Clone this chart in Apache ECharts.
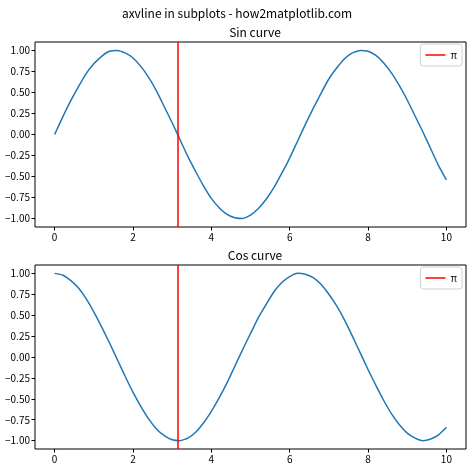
<!DOCTYPE html>
<html><head><meta charset="utf-8">
<script src="https://cdn.jsdelivr.net/npm/echarts@6/dist/echarts.min.js"></script>
<style>html,body{margin:0;padding:0;background:#fff}#c{width:474px;height:474px}</style>
</head><body><div id="c"></div>
<script>
const X = [0,0.2,0.4,0.6,0.8,1,1.2,1.4,1.6,1.8,2,2.2,2.4,2.6,2.8,3,3.2,3.4,3.6,3.8,4,4.2,4.4,4.6,4.8,5,5.2,5.4,5.6,5.8,6,6.2,6.4,6.6,6.8,7,7.2,7.4,7.6,7.8,8,8.2,8.4,8.6,8.8,9,9.2,9.4,9.6,9.8,10];
const SIN = [0.00,0.20,0.39,0.56,0.72,0.84,0.93,0.99,1.00,0.97,0.91,0.81,0.68,0.52,0.33,0.14,-0.06,-0.26,-0.44,-0.61,-0.76,-0.87,-0.95,-0.99,-1.00,-0.96,-0.88,-0.77,-0.63,-0.46,-0.28,-0.08,0.12,0.31,0.49,0.66,0.79,0.90,0.97,1.00,0.99,0.94,0.85,0.73,0.58,0.41,0.22,0.03,-0.17,-0.37,-0.54];
const COS = [1.00,0.98,0.92,0.83,0.70,0.54,0.36,0.17,-0.03,-0.23,-0.42,-0.59,-0.74,-0.86,-0.94,-0.99,-1.00,-0.97,-0.90,-0.79,-0.65,-0.49,-0.31,-0.11,0.09,0.28,0.47,0.63,0.78,0.89,0.96,1.00,0.99,0.95,0.87,0.75,0.61,0.44,0.25,0.05,-0.15,-0.34,-0.52,-0.68,-0.81,-0.91,-0.97,-1.00,-0.98,-0.93,-0.84];
const PI_X = 3.14159;
const X_TICKS = [0,2,4,6,8,10];
const Y_TICKS = [-1,-0.75,-0.5,-0.25,0,0.25,0.5,0.75,1];
const TITLES = ['Sin curve','Cos curve'];
const SUPTITLE = 'axvline in subplots - how2matplotlib.com';

const FONT = 'Noto Sans CJK SC';
const chart = echarts.init(document.getElementById('c'));
const grids = [{left:35,right:8,top:42,height:185},{left:35,right:8,top:265,height:184}];
function xAx(i){return {type:'value',gridIndex:i,min:-0.5,max:10.5,splitLine:{show:false},
  axisLine:{show:false,onZero:false},
  axisTick:{show:true,inside:false,length:3.5,lineStyle:{color:'#000'},customValues:X_TICKS},
  axisLabel:{customValues:X_TICKS,color:'#000',fontSize:10,fontFamily:FONT,margin:5}};}
function yAx(i){return {type:'value',gridIndex:i,min:-1.1,max:1.1,splitLine:{show:false},
  axisLine:{show:false,onZero:false},
  axisTick:{show:true,inside:false,length:3.5,lineStyle:{color:'#000'},customValues:Y_TICKS},
  axisLabel:{customValues:Y_TICKS,color:'#000',fontSize:10,fontFamily:FONT,margin:5,
    formatter:v=>(v<0?'\u2212':'')+Math.abs(v).toFixed(2)}};}
const series=[];
[SIN,COS].forEach((arr,i)=>{
  series.push({type:'line',xAxisIndex:i,yAxisIndex:i,name:TITLES[i],showSymbol:false,smooth:0.15,
    data:X.map((x,k)=>[x,arr[k]]),lineStyle:{color:'#1f77b4',width:1.5},itemStyle:{color:'#1f77b4'},silent:true});
  series.push({type:'line',xAxisIndex:i,yAxisIndex:i,name:'π',data:[],color:'#ff0000',
    markLine:{silent:true,symbol:['none','none'],label:{show:false},
      lineStyle:{color:'#ff0000',width:1.5,type:'solid'},data:[{xAxis:PI_X}]}});
});
const legends=grids.map((g,i)=>({data:['π'],right:12,top:g.top+2,orient:'vertical',
  icon:'rect',itemWidth:20,itemHeight:1.5,itemGap:4,padding:[6,5,6,5],
  borderColor:'#d0d0d0',borderWidth:1,borderRadius:3,backgroundColor:'#fff',
  textStyle:{fontSize:10,fontFamily:FONT,color:'#000'},selectedMode:false}));
const TS = {fontSize:12,fontWeight:'normal',fontFamily:FONT,color:'#000'};
chart.setOption({
  animation:false,
  title:[{text:SUPTITLE,left:'center',top:2,textStyle:TS},
    {text:TITLES[0],left:250,textAlign:'center',top:21,textStyle:TS},
    {text:TITLES[1],left:250,textAlign:'center',top:244,textStyle:TS}],
  grid:grids.map(g=>Object.assign({show:true,borderColor:'#000',borderWidth:1,backgroundColor:'transparent'},g)),
  xAxis:[xAx(0),xAx(1)],yAxis:[yAx(0),yAx(1)],
  legend:legends,
  series:series
});
</script></body></html>
